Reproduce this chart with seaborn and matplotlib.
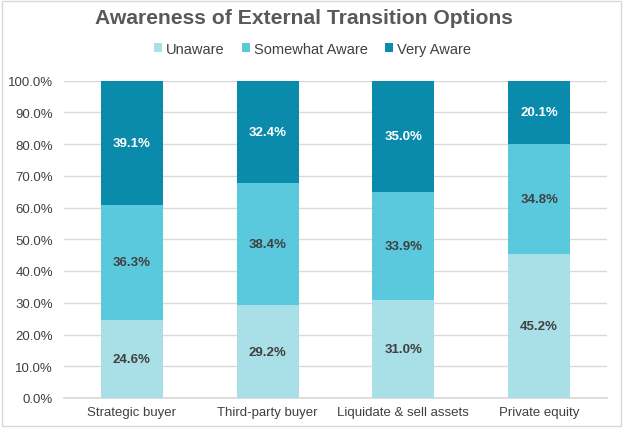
import matplotlib
matplotlib.use("Agg")
import matplotlib.pyplot as plt
import seaborn as sns
import pandas as pd
from matplotlib.patches import Rectangle
from matplotlib.ticker import PercentFormatter

# ---------------------------------------------------------------------------
# Data (percent of respondents)
# ---------------------------------------------------------------------------
categories = ["Strategic buyer", "Third-party buyer", "Liquidate & sell assets", "Private equity"]
unaware = [24.6, 29.2, 31.0, 45.2]
somewhat_aware = [36.3, 38.4, 33.9, 34.8]
very_aware = [39.1, 32.4, 35.0, 20.1]

series_names = ["Unaware", "Somewhat Aware", "Very Aware"]
colors = ["#A9DFE7", "#5BC9DD", "#0A8BAB"]
label_colors = ["#404040", "#404040", "white"]

sns.set_theme(style="white")
plt.rcParams["font.family"] = ["Liberation Sans", "DejaVu Sans"]

df = pd.DataFrame({"category": categories, "Unaware": unaware,
                   "Somewhat Aware": somewhat_aware, "Very Aware": very_aware})

fig = plt.figure(figsize=(6.25, 4.31), dpi=100)
ax = fig.add_axes([64 / 625, 1 - 399 / 431, (607 - 64) / 625, (399 - 81.5) / 431])

bottom = pd.Series([0.0] * len(df))
for name, col, lc in zip(series_names, colors, label_colors):
    sns.barplot(data=df, x="category", y=name, bottom=bottom, color=col,
                width=0.456, saturation=1, ax=ax, label=name, zorder=3, linewidth=0)
    # segment labels centred in each stacked piece
    for i, v in enumerate(df[name]):
        ax.text(i, bottom[i] + v / 2, f"{v:.1f}%", ha="center", va="center",
                fontsize=9.5, fontweight="bold", color=lc, zorder=4)
    bottom = bottom + df[name]

ax.set_ylim(0, 100)
ax.set_xlim(-0.5, 3.5)
ax.set_yticks(range(0, 101, 10))
ax.yaxis.set_major_formatter(PercentFormatter(decimals=1))
ax.grid(axis="y", color="#D9D9D9", linewidth=1, zorder=0)
ax.set_xlabel("")
ax.set_ylabel("")
for s in ["top", "right", "left"]:
    ax.spines[s].set_visible(False)
ax.spines["bottom"].set_color("#D9D9D9")
ax.tick_params(axis="both", length=0, labelsize=9.5, colors="#404040", pad=6)
ax.tick_params(axis="y", pad=8)
if ax.legend_:
    ax.legend_.remove()

handles, labels = ax.get_legend_handles_labels()
fig.legend(handles, labels, loc="center", bbox_to_anchor=(0.5, 1 - 50 / 431),
           ncol=3, frameon=False, fontsize=10.5, handlelength=0.55, handleheight=0.55,
           handletextpad=0.25, columnspacing=1.2, labelcolor="#404040")

fig.text(0.487, 1 - 19 / 431, "Awareness of External Transition Options", ha="center",
         va="center", fontsize=15.2, fontweight="bold", color="#595959")

# light frame around the chart area
fig.patches.append(Rectangle((2 / 625, 4 / 431), 619 / 625, 425 / 431, transform=fig.transFigure,
                             fill=False, edgecolor="#D9D9D9", linewidth=1))

fig.savefig("out.png", dpi=100, facecolor="white")
